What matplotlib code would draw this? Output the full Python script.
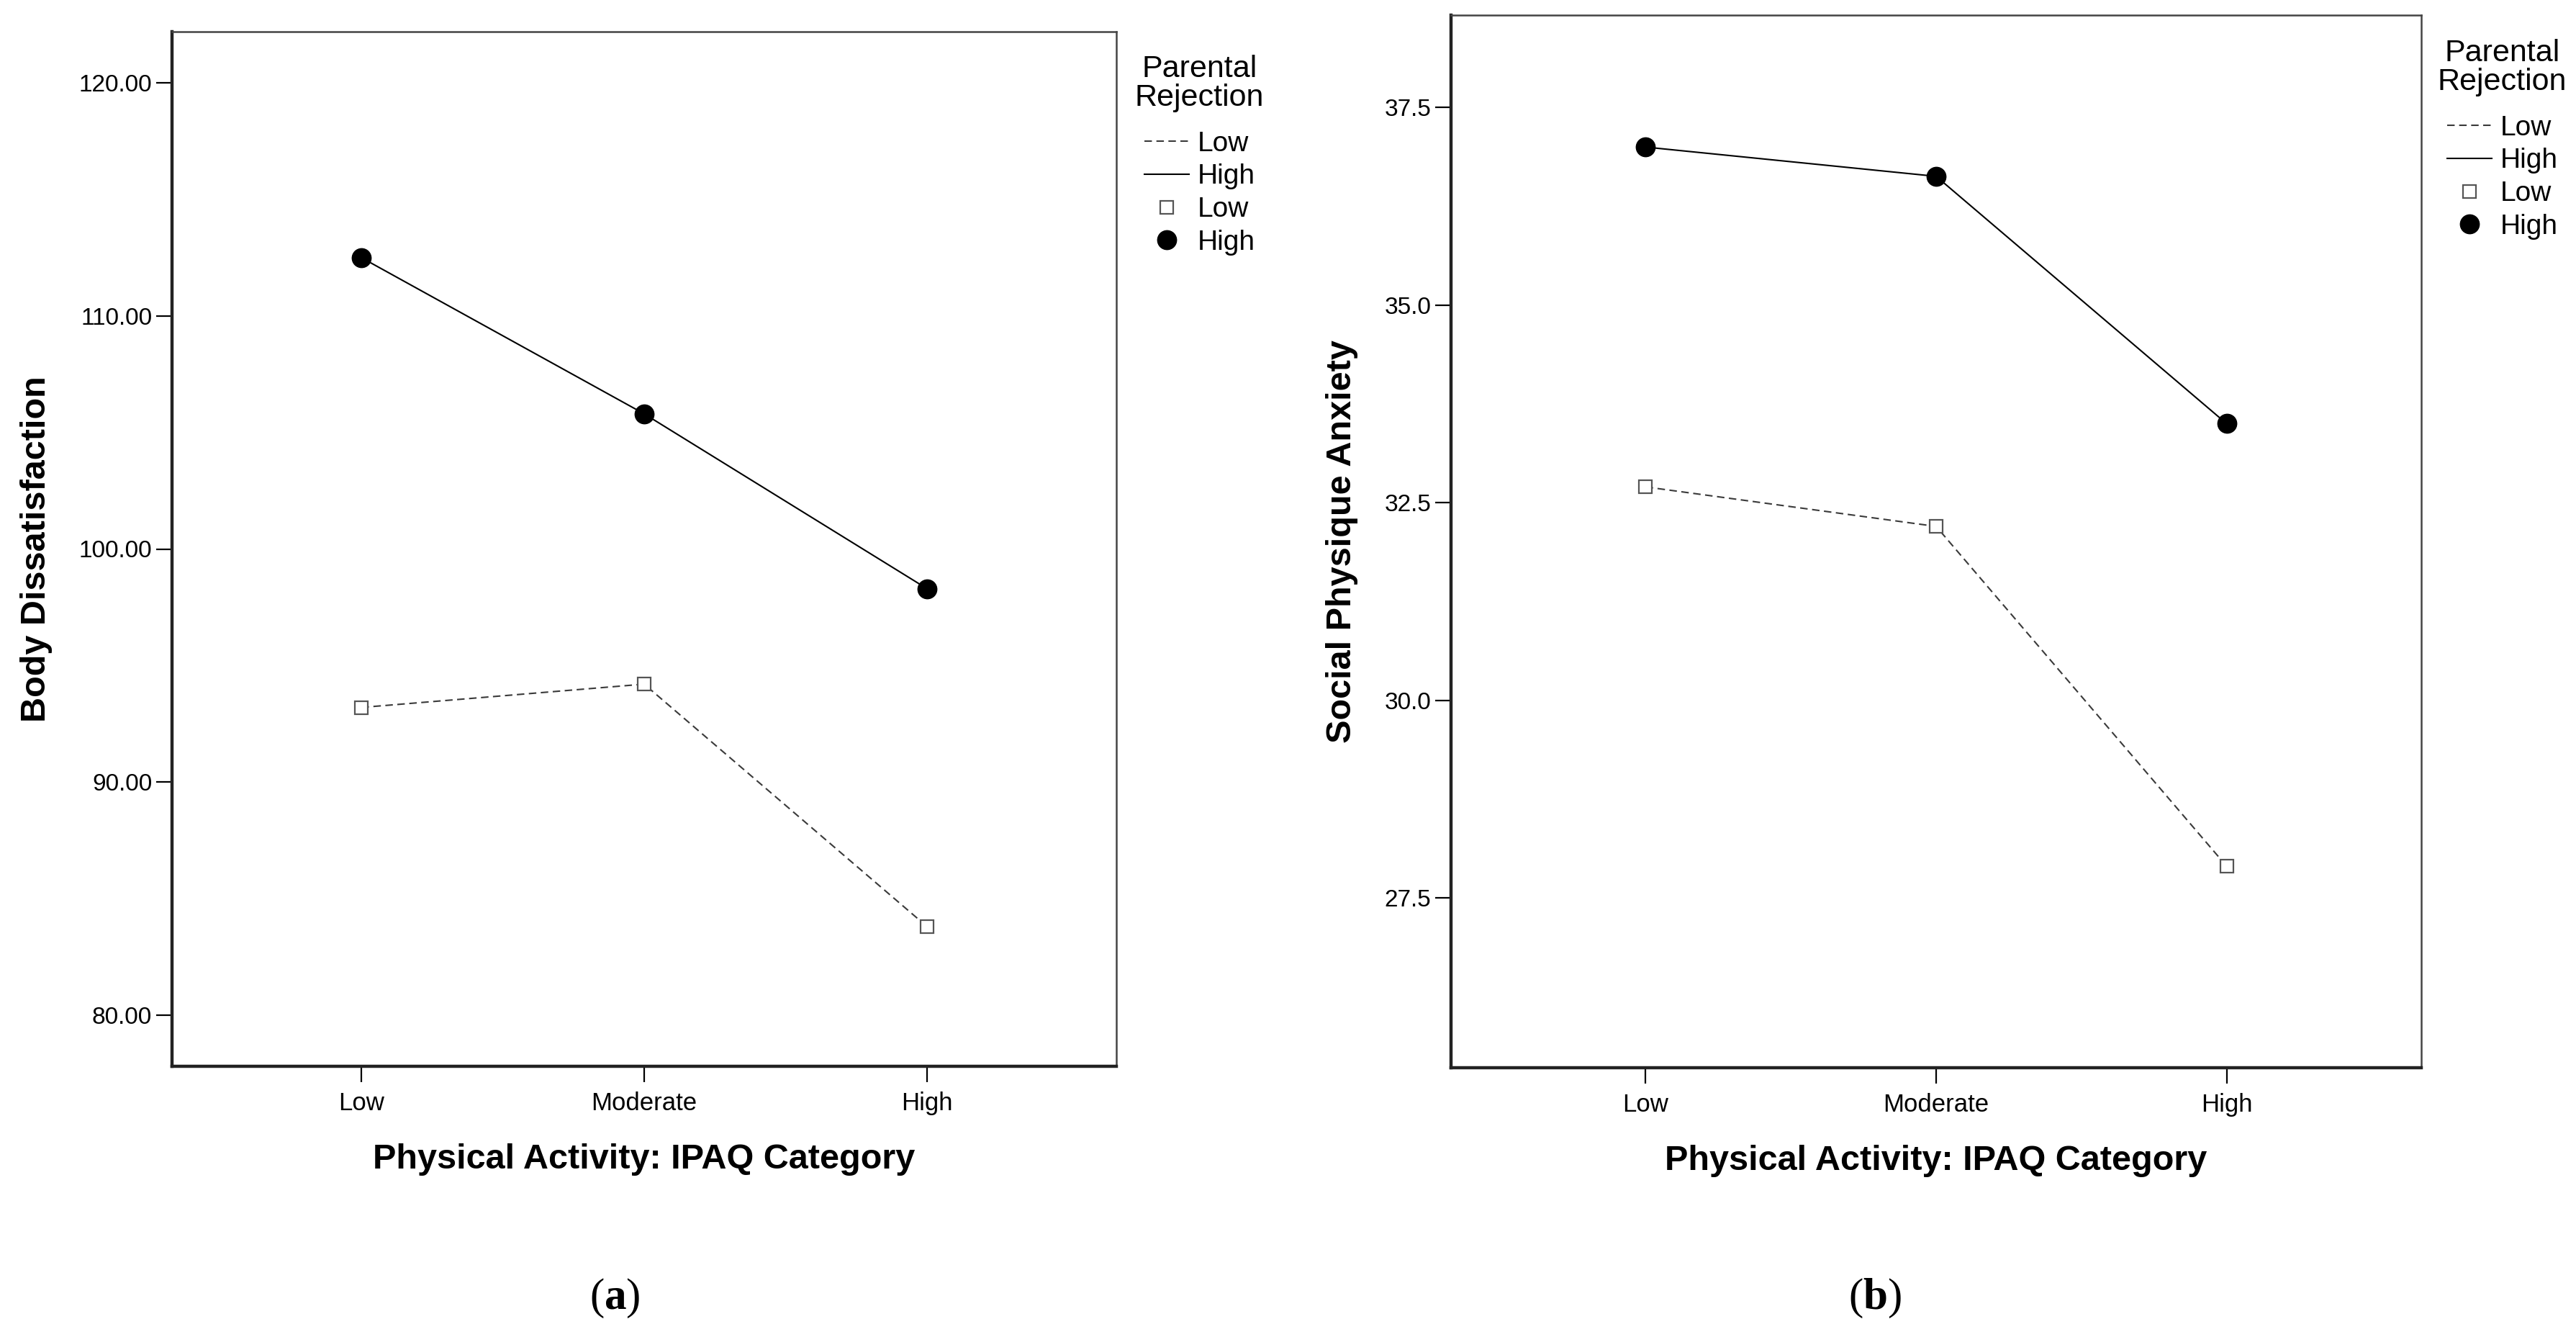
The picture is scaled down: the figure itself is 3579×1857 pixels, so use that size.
import matplotlib
matplotlib.use("Agg")
import matplotlib.pyplot as plt
from matplotlib.lines import Line2D
from matplotlib.ticker import FormatStrFormatter

plt.rcParams['font.family'] = ['Liberation Sans', 'DejaVu Sans']
plt.rcParams['mathtext.fontset'] = 'custom'
plt.rcParams['mathtext.rm'] = 'Liberation Serif'
plt.rcParams['mathtext.bf'] = 'Liberation Serif:bold'

# ---- data ----
categories = ['Low', 'Moderate', 'High']
bd_low = [93.2, 94.2, 83.8]
bd_high = [112.5, 105.8, 98.3]
spa_low = [32.7, 32.2, 27.9]
spa_high = [37.0, 36.63, 33.5]
bd_ticks = [80, 90, 100, 110, 120]
spa_ticks = [27.5, 30.0, 32.5, 35.0, 37.5]
legend_title = 'Parental\nRejection'
legend_labels = ['Low', 'High', 'Low', 'High']

W, H = 3580, 1857
fig = plt.figure(figsize=(W / 100, H / 100), dpi=100)

def px_axes(x0, y0, x1, y1):
    return fig.add_axes([x0 / W, 1 - y1 / H, (x1 - x0) / W, (y1 - y0) / H])

ax1 = px_axes(239, 44, 1551, 1481)
ax2 = px_axes(2016, 21, 3364, 1483)

panels = [
    (ax1, bd_low, bd_high, bd_ticks, (77.8, 122.2), '%.2f', 'Body Dissatisfaction', '(a)', 854),
    (ax2, spa_low, spa_high, spa_ticks, (25.35, 38.67), '%.1f', 'Social Physique Anxiety', '(b)', 2605),
]

for ax, low, high, yt, ylim, fmt, ylabel, tag, tagx in panels:
    x = list(range(len(categories)))
    ax.plot(x, low, color='#3a3a3a', lw=1.5, ls=(0, (5, 3)), marker='s',
            ms=13, mfc='white', mec='#555555', mew=1.6, zorder=3)
    ax.plot(x, high, color='black', lw=1.5, ls='-', marker='o',
            ms=19, mfc='black', mec='black', zorder=3)
    ax.set_xlim(-0.67, 2.67)
    ax.set_ylim(*ylim)
    ax.set_xticks(x)
    ax.set_xticklabels(categories)
    ax.set_yticks(yt)
    ax.yaxis.set_major_formatter(FormatStrFormatter(fmt))
    ax.tick_params(axis='y', length=16, width=1.6, pad=4, labelsize=24, direction='out')
    ax.tick_params(axis='x', length=16, width=1.6, pad=9, labelsize=25, direction='out')
    for s in ['top', 'right']:
        ax.spines[s].set_linewidth(1.8)
        ax.spines[s].set_color('#444444')
    for s in ['left', 'bottom']:
        ax.spines[s].set_linewidth(3.2)
        ax.spines[s].set_color('#222222')
    ax.set_xlabel('Physical Activity: IPAQ Category', fontsize=35, fontweight='bold', labelpad=28)
    ax.set_ylabel(ylabel, fontsize=35, fontweight='bold', labelpad=26)
    fig.text(tagx / W, 1 - 1803 / H, '(' + r'$\mathbf{' + tag[1] + '}$' + ')',
             fontsize=44, family='Liberation Serif', ha='center', va='center')

handles = [
    Line2D([], [], color='#3a3a3a', lw=1.5, ls=(0, (5, 3))),
    Line2D([], [], color='black', lw=1.5),
    Line2D([], [], ls='none', marker='s', ms=13, mfc='white', mec='#555555', mew=1.6),
    Line2D([], [], ls='none', marker='o', ms=19, mfc='black', mec='black'),
]

for ax, lx, ly in [(ax1, 1577, 76), (ax2, 3387, 54)]:
    leg = ax.legend(handles, legend_labels, title=legend_title, loc='upper left',
                    bbox_to_anchor=(lx / W, 1 - ly / H), bbox_transform=fig.transFigure,
                    frameon=False, fontsize=28, title_fontsize=31, handlelength=1.6,
                    handletextpad=0.3, labelspacing=0.25, borderpad=0, borderaxespad=0,
                    numpoints=1)
    leg._legend_box.align = 'center'
    leg._legend_box.sep = 18.5
    leg.get_title().set_multialignment('center')
    leg.get_title().set_linespacing(1.0)

fig.savefig('out.png', dpi=100)
